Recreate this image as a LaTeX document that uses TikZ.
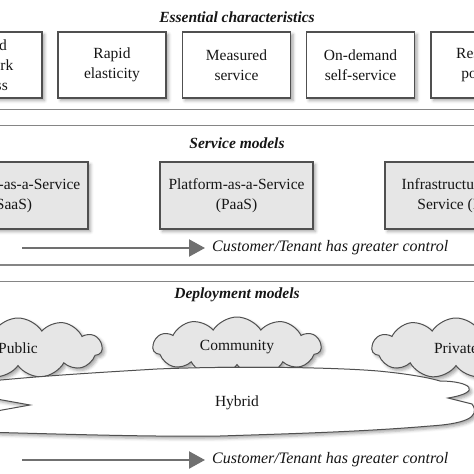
\documentclass[tikz,border=0pt]{standalone}
\usepackage{fontspec}
\setmainfont{Liberation Serif}
\usepackage{xcolor}
\usetikzlibrary{shapes.symbols, shadows.blur, arrows.meta, positioning}

\definecolor{framegray}{HTML}{858585}
\definecolor{edgegray}{HTML}{505050}
\definecolor{boxgray}{HTML}{E6E6E6}
\definecolor{arrowgray}{HTML}{707070}
\definecolor{inkgray}{HTML}{161616}

\newcommand{\bodyfont}{\fontsize{15.5}{20}\selectfont}
\newcommand{\headfont}{\fontsize{15.5}{20}\selectfont\bfseries\itshape}
\newcommand{\ctlfont}{\fontsize{16}{20}\selectfont\itshape}

\tikzset{
  softshadow/.style={blur shadow={shadow xshift=2.5pt, shadow yshift=-2.5pt,
      shadow blur radius=3pt, shadow opacity=35}},
  charbox/.style={draw=edgegray, fill=white, line width=1.1pt, softshadow,
      minimum width=108pt, minimum height=66pt, align=center,
      font=\bodyfont, text=inkgray},
  modelbox/.style={charbox, fill=boxgray, minimum width=153pt, minimum height=67pt},
  deploycloud/.style={cloud, cloud puffs=11, cloud puff arc=115, aspect=3,
      draw=edgegray, fill=boxgray, line width=1pt, softshadow,
      minimum width=168pt, minimum height=60pt, font=\bodyfont, text=inkgray},
  sectitle/.style={font=\headfont, text=inkgray},
  frameline/.style={draw=framegray, line width=1.5pt},
  ctlarrow/.style={draw=arrowgray, line width=2.2pt,
      -{Triangle[length=16pt,width=17pt]}},
  ctltext/.style={font=\ctlfont, text=inkgray, inner sep=3pt}
}

\begin{document}
\begin{tikzpicture}[x=1pt, y=-1pt]

        \useasboundingbox (0,0) rectangle (474,474);
        \clip (0,0) rectangle (474,474);

        % Frames of the three sections
        \draw[frameline] (-40,-5) rectangle (514,109.5);
        \draw[frameline] (-40,125.5) rectangle (514,265);
        \draw[frameline] (-40,281.5) rectangle (514,490);

        % Essential characteristics
        \node[sectitle] (esstitle) at (237,17) {Essential characteristics};
        \node[charbox] (broad) at (-12,65) {Broad\\network\\access};
        \node[charbox] (rapid) at (112,65) {Rapid\\elasticity};
        \node[charbox] (measured) at (236.5,65) {Measured\\service};
        \node[charbox] (ondemand) at (360.5,65) {On-demand\\self-service};
        \node[charbox] (pooling) at (485,65) {Resource\\pooling};

        % Service models
        \node[sectitle] (svctitle) at (237,143) {Service models};
        \node[modelbox] (saas) at (11.5,195.5) {Software-as-a-Service\\(SaaS)};
        \node[modelbox] (paas) at (236.5,195.5) {Platform-as-a-Service\\(PaaS)};
        \node[modelbox] (iaas) at (461.5,195.5) {Infrastructure-as-a-\\Service (IaaS)};

        \coordinate (ctlA) at (22,248);
        \coordinate (ctlB) at (205,248);
        \draw[ctlarrow] (ctlA) -- (ctlB);
        \node[ctltext, right=4pt of ctlB] (ctlAtext) {Customer/Tenant has greater control};

        % Deployment models
        \node[sectitle] (deptitle) at (237,295) {Deployment models};
        \node[deploycloud] (public) at (18,348) {Public};
        \node[deploycloud] (community) at (237,347) {Community};
        \node[deploycloud] (private) at (456,348) {Private};

        % Hybrid (drawn over the other clouds)
        \draw[draw=edgegray, fill=white, line width=1pt, softshadow]
            (-20,382) .. controls (40,376) and (90,373) .. (157,369)
            .. controls (230,366) and (330,367) .. (378,371)
            .. controls (410,374) and (430,378) .. (440,381)
            .. controls (470,381) and (484,392) .. (448,398)
            -- (472,404)
            .. controls (482,418) and (462,424) .. (430,426)
            .. controls (360,432) and (280,434) .. (220,436)
            .. controls (150,437) and (60,434) .. (-20,432)
            -- (-20,414) -- (30,405) -- (-20,396) -- cycle;
        \node[font=\bodyfont, text=inkgray] (hybrid) at (237,403) {Hybrid};

        \coordinate (ctlC) at (22,460);
        \coordinate (ctlD) at (205,460);
        \draw[ctlarrow] (ctlC) -- (ctlD);
        \node[ctltext, right=4pt of ctlD] (ctlCtext) {Customer/Tenant has greater control};

\end{tikzpicture}
\end{document}
